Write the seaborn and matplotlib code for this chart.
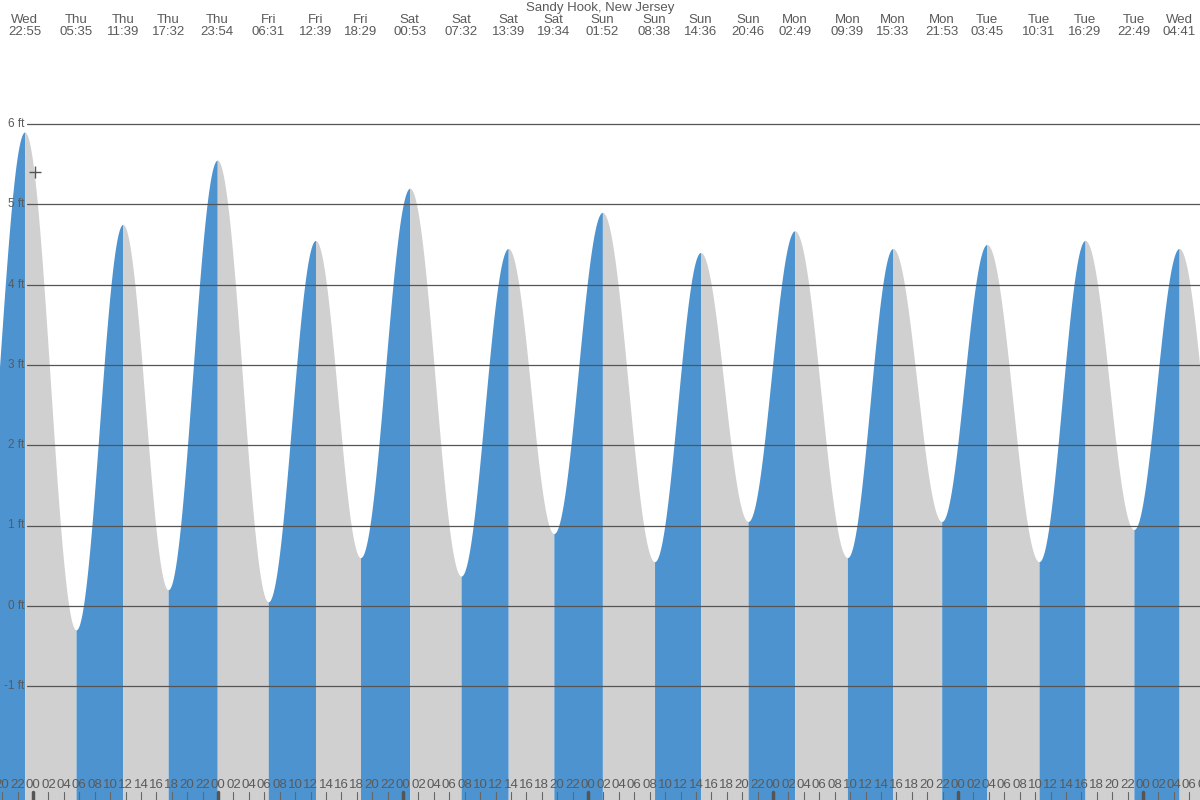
import numpy as np
import matplotlib
matplotlib.use("Agg")
import matplotlib.pyplot as plt
import matplotlib.transforms as mtransforms
import seaborn as sns
import pandas as pd

sns.set_style("white")
plt.rcParams['font.family'] = ['Liberation Sans', 'DejaVu Sans']

title = "Sandy Hook, New Jersey"
# tide extremes: day label, time label, height (ft)
ext_days = ["Wed","Thu","Thu","Thu","Thu","Fri","Fri","Fri","Sat","Sat","Sat","Sat",
            "Sun","Sun","Sun","Sun","Mon","Mon","Mon","Mon","Tue","Tue","Tue","Tue","Wed"]
ext_times = ["22:55","05:35","11:39","17:32","23:54","06:31","12:39","18:29","00:53","07:32",
             "13:39","19:34","01:52","08:38","14:36","20:46","02:49","09:39","15:33","21:53",
             "03:45","10:31","16:29","22:49","04:41"]
ext_heights = [5.9,-0.3,4.75,0.2,5.55,0.05,4.55,0.6,5.2,0.37,4.45,0.9,4.9,0.55,4.4,1.05,
               4.67,0.6,4.45,1.05,4.5,0.55,4.55,0.95,4.45]
day_offsets = {"Wed0":-24,"Thu":0,"Fri":24,"Sat":48,"Sun":72,"Mon":96,"Tue":120,"Wed1":144}
# approximate extremes just outside the visible window
pre_low = (-7.5, 0.2)
post_low = (155.2, 0.4)

def to_hours(i):
    d = ext_days[i]
    if d == "Wed":
        d = "Wed0" if i == 0 else "Wed1"
    hh, mm = ext_times[i].split(":")
    return day_offsets[d] + int(hh) + int(mm) / 60

ext_hours = [to_hours(i) for i in range(len(ext_days))]
all_h = [pre_low[0]] + ext_hours + [post_low[0]]
all_v = [pre_low[1]] + ext_heights + [post_low[1]]

px_per_h = 185 / 24
x0 = -33 / px_per_h
x1 = x0 + 1200 / px_per_h
ft_px = 80.3
y_top = 6 + 124 / ft_px
y_bot = 6 - (800 - 124) / ft_px

fig = plt.figure(figsize=(12, 8), dpi=100)
ax = fig.add_axes([0, 0, 1, 1])
ax.set_xlim(x0, x1)
ax.set_ylim(y_bot, y_top)
ax.axis("off")

blue, grey = "#4d93cf", "#d0d0d0"
txt = "#5a5a5a"
rows = []
for k in range(len(all_h) - 1):
    ha, hb = all_h[k], all_h[k + 1]
    va, vb = all_v[k], all_v[k + 1]
    t = np.linspace(ha, hb, 200)
    v = va + (vb - va) * (1 - np.cos(np.pi * (t - ha) / (hb - ha))) / 2
    ax.fill_between(t, y_bot, v, color=blue if vb > va else grey, linewidth=0, zorder=1)
    rows.append(pd.DataFrame({"h": t, "ft": v}))
df = pd.concat(rows)
sns.lineplot(data=df, x="h", y="ft", ax=ax, linewidth=0, color=grey, zorder=1)

for f in range(-1, 7):
    ax.axhline(f, xmin=27 / 1200, xmax=1, color="#555555", linewidth=0.9, zorder=2)
    ax.text(24 / 1200, f, f"{f} ft", transform=mtransforms.blended_transform_factory(ax.transAxes, ax.transData),
            ha="right", va="center", fontsize=8.5, color=txt, zorder=3)

tr = mtransforms.blended_transform_factory(ax.transData, ax.transAxes)
for i, h in enumerate(ext_hours):
    ax.text(h, 1 - 20 / 800, ext_days[i], transform=tr, ha="center", va="center", fontsize=9.5, color=txt)
    ax.text(h, 1 - 32 / 800, ext_times[i], transform=tr, ha="center", va="center", fontsize=9.5, color=txt)
ax.text(0.5, 1 - 8 / 800, title, transform=ax.transAxes, ha="center", va="center", fontsize=9.5, color=txt)

for h in range(-24, 170, 2):
    if h < x0 - 1 or h > x1 + 1:
        continue
    ax.text(h, 1 - 785 / 800, f"{h % 24:02d}", transform=tr, ha="center", va="center",
            fontsize=9.5, color=txt, zorder=3)
    mid = h % 24 == 0
    ax.plot([h, h], [0, 8 / 800], transform=tr, color="#555555" if mid else "#666666",
            linewidth=2.5 if mid else 0.8, zorder=3, clip_on=False)

ax.plot([x0 + 35 / px_per_h], [5.4], marker="+", color="#555555", markersize=8, zorder=4)

fig.savefig("out.png", dpi=100)
